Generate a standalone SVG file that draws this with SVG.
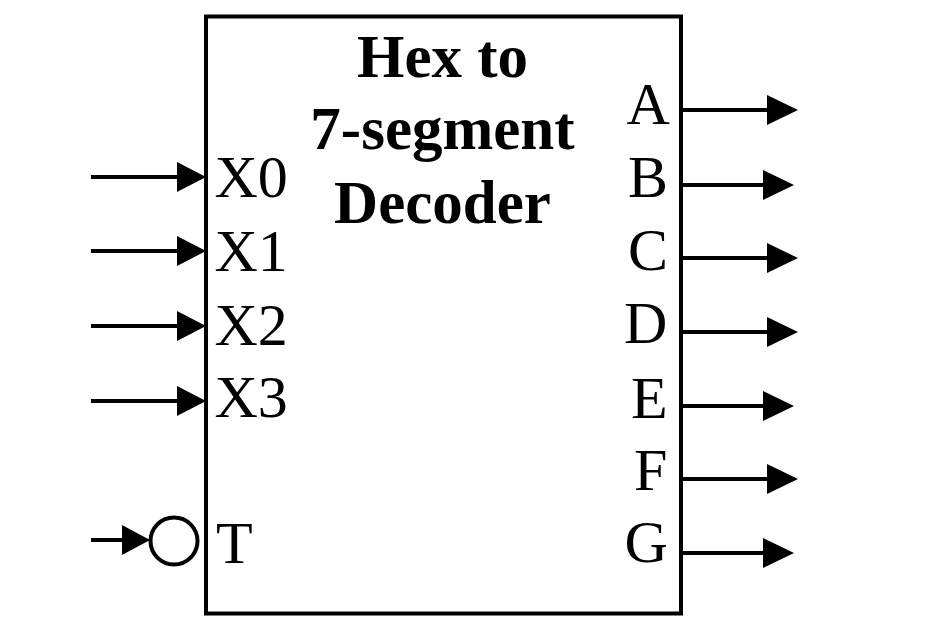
<svg xmlns="http://www.w3.org/2000/svg" width="928" height="628" viewBox="0 0 928 628">
<style>
text{font-family:"Liberation Serif","Times New Roman",serif;fill:#000}
.t{font-size:61px;font-weight:bold;text-anchor:middle}
.p{font-size:60px}
.w{stroke:#000;stroke-width:4;fill:none}
.h{fill:#000;stroke:none}
</style>
<rect width="928" height="628" fill="#fff"/>
<g id="decoder">
<rect x="206" y="16.500" width="475" height="597" fill="#fff" stroke="#000" stroke-width="4"/>
<text class="t" x="442.500" y="77">Hex to</text>
<text class="t" x="442.500" y="149">7-segment</text>
<text class="t" x="442.500" y="223">Decoder</text>
</g>
<g id="connectors">
<path class="w" d="M91 177H178M91 251H178M91 326H178M91 401H178M91 540H123"/>
<path class="h" d="M177 162L206 177L177 192ZM177 236L206 251L177 266ZM177 311L206 326L177 341ZM177 386L206 401L177 416ZM122 525L150 540L122 555Z"/>
<path class="w" d="M683 110H768M683 185H764M683 258H768M683 332H768M683 406H764M683 479H768M683 553H764"/>
<path class="h" d="M767 95L798 110L767 125ZM763 170L794 185L763 200ZM767 243L798 258L767 273ZM767 317L798 332L767 347ZM763 391L794 406L763 421ZM767 464L798 479L767 494ZM763 538L794 553L763 568Z"/>
</g>
<g id="T-bubble"><circle cx="174" cy="541" r="23.500" fill="#fff" stroke="#000" stroke-width="4"/></g>
<g id="inputs">
<text class="p" x="214.500" y="197">X0</text>
<text class="p" x="214.500" y="271">X1</text>
<text class="p" x="214.500" y="345">X2</text>
<text class="p" x="214.500" y="417">X3</text>
<text class="p" x="216" y="563">T</text>
</g>
<g id="outputs">
<text class="p" x="626.500" y="124">A</text>
<text class="p" x="628" y="197">B</text>
<text class="p" x="628" y="270">C</text>
<text class="p" x="624" y="343">D</text>
<text class="p" x="631" y="418">E</text>
<text class="p" x="634" y="490">F</text>
<text class="p" x="624.500" y="562">G</text>
</g>
</svg>
